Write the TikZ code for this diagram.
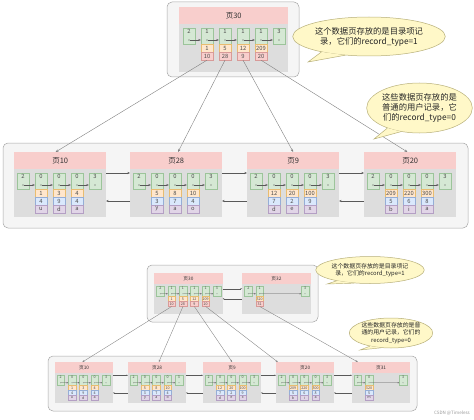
\documentclass[tikz,border=0pt]{standalone}
\usepackage{fontspec}
\setmainfont{Noto Sans CJK SC}
\usetikzlibrary{arrows.meta,shapes.geometric,calc}
\definecolor{gF}{HTML}{D5E8D4}\definecolor{gD}{HTML}{9CC49A}
\definecolor{oF}{HTML}{FFE6CC}\definecolor{oD}{HTML}{E8BC70}
\definecolor{pF}{HTML}{F8CECC}\definecolor{pD}{HTML}{D89A98}
\definecolor{bF}{HTML}{DAE8FC}\definecolor{bD}{HTML}{95AED6}
\definecolor{uF}{HTML}{E1D5E7}\definecolor{uD}{HTML}{B49FC4}
\definecolor{hdrF}{HTML}{F8CECC}
\definecolor{pgF}{HTML}{DDDDDD}
\definecolor{outF}{HTML}{F5F5F5}\definecolor{outD}{HTML}{A8A8A8}
\definecolor{bubF}{HTML}{FFF8C8}\definecolor{bubD}{HTML}{B8B07A}

% green cell: name, left x, value
\newcommand{\gc}[3]{%
  \node[gcell] (#1) at ({#2+6},29) {};
  \node[ctext] (#1t) at ({#2+6},24.5) {#3};
  \node[dotn] (#1d) at ({#2+6},33) {};}
% coloured cell: style, name, left x, centre y, value
\newcommand{\rc}[5]{\node[#1] (#2) at ({#3+6},#4) {#5};}
% link between green cells
\newcommand{\lk}[2]{\draw[lnk] (#1d) -- (#2.west |- #1d);}

% leaf page: name, x, y, label, row1, row2, row3
\newcommand{\leafpg}[7]{%
 \begin{scope}[shift={(#2,#3)}]
  \node[pgbg, minimum width=92pt, minimum height=48pt] (#1b) at (0,17) {};
  \node[hdr, minimum width=92pt, minimum height=17pt] (#1) at (0,0) {#4};
  \foreach \v [count=\k] in {2,0,0,0,3} {\gc{#1g\k}{3+18*(\k-1)}{\v}}
  \foreach \k [evaluate=\k as \nk using int(\k+1)] in {1,...,4} {\lk{#1g\k}{#1g\nk}}
  \foreach \v [count=\k] in {#5} {\rc{orc}{#1o\k}{3+18*\k}{41}{\v}}
  \foreach \v [count=\k] in {#6} {\rc{blc}{#1u\k}{3+18*\k}{49}{\v}}
  \foreach \v [count=\k] in {#7} {\rc{puc}{#1v\k}{3+18*\k}{57}{\v}}
  \coordinate (#1r) at (92,21); \coordinate (#1l) at (0,21);
  \coordinate (#1rr) at (92,49); \coordinate (#1ll) at (0,49);
 \end{scope}}

% directory page: name, x, y, label, row1, row2
\newcommand{\dirpg}[6]{%
 \begin{scope}[shift={(#2,#3)}]
  \node[pgbg, minimum width=109pt, minimum height=48pt] (#1b) at (0,17) {};
  \node[hdr, minimum width=109pt, minimum height=17pt] (#1) at (0,0) {#4};
  \foreach \v [count=\k] in {2,1,1,1,1,3} {\gc{#1g\k}{4+18*(\k-1)}{\v}}
  \foreach \k [evaluate=\k as \nk using int(\k+1)] in {1,...,5} {\lk{#1g\k}{#1g\nk}}
  \foreach \v [count=\k] in {#5} {\rc{orc}{#1o\k}{4+18*\k}{41}{\v}}
  \foreach \v [count=\k] in {#6} {\rc{pkc}{#1p\k}{4+18*\k}{49}{\v}}
  \coordinate (#1r) at (109,25); \coordinate (#1l) at (0,25);
  \coordinate (#1rr) at (109,41); \coordinate (#1ll) at (0,41);
 \end{scope}}

\begin{document}
\begin{tikzpicture}[x=1pt,y=-1pt,
  hdr/.style={fill=hdrF, inner sep=0, anchor=north west, font=\fontsize{7.5}{8}\selectfont, text=black!80},
  pgbg/.style={fill=pgF, inner sep=0, anchor=north west},
  cellbase/.style={draw, inner sep=0, minimum width=12pt, line width=0.35pt, font=\fontsize{5.8}{6}\selectfont, text=black!70},
  gcell/.style={cellbase, fill=gF, draw=gD, minimum height=16pt},
  orc/.style={cellbase, fill=oF, draw=oD, minimum height=8pt},
  pkc/.style={cellbase, fill=pF, draw=pD, minimum height=8pt},
  blc/.style={cellbase, fill=bF, draw=bD, minimum height=8pt},
  puc/.style={cellbase, fill=uF, draw=uD, minimum height=8pt},
  ctext/.style={inner sep=0, font=\fontsize{5.8}{6}\selectfont, text=black!70},
  dotn/.style={circle, fill=black!70, inner sep=0, minimum size=1.3pt},
  lnk/.style={-{Stealth[length=2.5pt,width=2pt]}, line width=0.4pt, draw=black!65},
  conn/.style={-{Stealth[length=3pt,width=2.4pt]}, line width=0.4pt, draw=black!50},
  outer/.style={draw=outD, fill=outF, rounded corners=5pt, line width=0.5pt},
  bubble/.style={ellipse, draw=bubD, fill=bubF, line width=0.5pt, inner sep=0, align=center, text=black!85},
]
\fill[white] (0,0) rectangle (474,420);
\useasboundingbox (0,0) rectangle (474,420);

% ---------------- top diagram ----------------
\draw[outer] (167,2) rectangle (299,77);
\draw[outer] (3,143) rectangle (468,228);
\dirpg{t30}{179}{7}{页30}{1,5,12,209}{10,28,9,20}
\leafpg{p10}{14}{152}{页10}{1,3,4}{4,9,4}{u,d,a}
\leafpg{p28}{130}{152}{页28}{5,8,10}{3,7,4}{y,a,o}
\leafpg{p9}{247}{152}{页9}{12,20,100}{7,2,9}{d,e,x}
\leafpg{p20}{364}{152}{页20}{209,220,300}{5,6,8}{b,i,a}
\draw[lnk] (p10r) -- (p28l); \draw[lnk] (p28ll) -- (p10rr);
\draw[lnk] (p28r) -- (p9l);  \draw[lnk] (p9ll) -- (p28rr);
\draw[lnk] (p9r) -- (p20l);  \draw[lnk] (p20ll) -- (p9rr);
\draw[conn] (t30p1.south) -- ($(p10.north west)!0.45!(p10.north east)$);
\draw[conn] (t30p2.south) -- ($(p28.north west)!0.52!(p28.north east)$);
\draw[conn] (t30p3.south) -- (p9.north);
\draw[conn] (t30p4.south) -- ($(p20.north west)!0.47!(p20.north east)$);

\node[bubble, minimum width=120pt, minimum height=39pt, font=\fontsize{8.3}{10}\selectfont] (c1) at (369,36.5) {这个数据页存放的是目录项记\\录，它们的record\_type=1};
\coordinate (c1t) at (308,62);
\fill[bubF] (c1.198) -- (c1t) -- (c1.218) -- cycle;
\draw[bubD, line width=0.5pt] (c1.198) -- (c1t) -- (c1.218);

\node[bubble, minimum width=86pt, minimum height=50pt, font=\fontsize{8.3}{10.3}\selectfont] (c2) at (419.5,108) {这些数据页存放的是\\普通的用户记录，它\\们的record\_type=0};
\coordinate (c2t) at (374,139);
\fill[bubF] (c2.212) -- (c2t) -- (c2.232) -- cycle;
\draw[bubD, line width=0.5pt] (c2.212) -- (c2t) -- (c2.232);

% ---------------- bottom diagram ----------------
\draw[outer] (147,265) rectangle (318,322);
\draw[outer] (48,356) rectangle (417,411);
\begin{scope}[shift={(154,273)}, scale=0.63, transform shape,
  lnk/.style={-{Stealth[length=1.6pt,width=1.3pt]}, line width=0.3pt, draw=black!65},
  conn/.style={-{Stealth[length=2.2pt,width=1.8pt]}, line width=0.35pt, draw=black!50},
  cellbase/.append style={line width=0.25pt}]
 \dirpg{b30}{0}{0}{页30}{1,5,12,209}{10,28,9,20}
 \begin{scope}[shift={(139.7,0)}]
  \node[pgbg, minimum width=109pt, minimum height=48pt] (b32b) at (0,17) {};
  \node[hdr, minimum width=109pt, minimum height=17pt] (b32) at (0,0) {页32};
  \gc{b32g1}{4}{2} \gc{b32g2}{22}{1} \gc{b32g3}{94}{3}
  \lk{b32g1}{b32g2} \lk{b32g2}{b32g3}
  \rc{orc}{b32o1}{22}{41}{320}
  \rc{pkc}{b32p1}{22}{49}{31}
  \coordinate (b32r) at (109,25); \coordinate (b32l) at (0,25);
  \coordinate (b32rr) at (109,41); \coordinate (b32ll) at (0,41);
 \end{scope}
 \draw[lnk] (b30r) -- (b32l); \draw[lnk] (b32ll) -- (b30rr);

 \leafpg{b10}{-157.1}{141.3}{页10}{1,3,4}{4,9,4}{u,d,a}
 \leafpg{b28}{-41.3}{141.3}{页28}{5,8,10}{3,7,4}{y,a,o}
 \leafpg{b9}{77.8}{141.3}{页9}{12,20,100}{7,2,9}{d,e,x}
 \leafpg{b20}{193.7}{141.3}{页20}{209,220,300}{5,6,8}{b,i,a}
 \begin{scope}[shift={(314.3,141.3)}]
  \node[pgbg, minimum width=92pt, minimum height=48pt] (b31b) at (0,17) {};
  \node[hdr, minimum width=92pt, minimum height=17pt] (b31) at (0,0) {页31};
  \gc{b31g1}{3}{2} \gc{b31g2}{21}{0} \gc{b31g3}{75}{3}
  \lk{b31g1}{b31g2} \lk{b31g2}{b31g3}
  \rc{orc}{b31o1}{21}{41}{320}
  \rc{blc}{b31u1}{21}{49}{5}
  \rc{puc}{b31v1}{21}{57}{m}
  \coordinate (b31r) at (92,21); \coordinate (b31l) at (0,21);
  \coordinate (b31rr) at (92,49); \coordinate (b31ll) at (0,49);
 \end{scope}
 \draw[lnk] (b10r) -- (b28l); \draw[lnk] (b28ll) -- (b10rr);
 \draw[lnk] (b28r) -- (b9l);  \draw[lnk] (b9ll) -- (b28rr);
 \draw[lnk] (b9r) -- (b20l);  \draw[lnk] (b20ll) -- (b9rr);
 \draw[lnk] (b20r) -- (b31l); \draw[lnk] (b31ll) -- (b20rr);

 \draw[conn] (b30p1.south) -- ($(b10.north west)!0.47!(b10.north east)$);
 \draw[conn] (b30p2.south) -- ($(b28.north west)!0.53!(b28.north east)$);
 \draw[conn] (b30p3.south) -- (b9.north);
 \draw[conn] (b30p4.south) -- ($(b20.north west)!0.03!(b20.north east)$);
 \draw[conn] (b32p1.south) -- ($(b31.north west)!0.1!(b31.north east)$);
\end{scope}

\node[bubble, minimum width=86pt, minimum height=27pt, font=\fontsize{5.9}{6.8}\selectfont] (c3) at (370,270) {这个数据页存放的是目录项记\\录，它们的record\_type=1};
\coordinate (c3t) at (327,284);
\fill[bubF] (c3.198) -- (c3t) -- (c3.220) -- cycle;
\draw[bubD, line width=0.45pt] (c3.198) -- (c3t) -- (c3.220);

\node[bubble, minimum width=66pt, minimum height=30pt, font=\fontsize{5.9}{7.2}\selectfont] (c4) at (391,333) {这些数据页存放的是普\\通的用户记录，它们的\\record\_type=0};
\coordinate (c4t) at (360,350);
\fill[bubF] (c4.212) -- (c4t) -- (c4.236) -- cycle;
\draw[bubD, line width=0.45pt] (c4.212) -- (c4t) -- (c4.236);

\node[inner sep=0, anchor=east, font=\fontsize{4.5}{5}\selectfont, text=black!40] (wm) at (470,413) {CSDN @Timeless};
\end{tikzpicture}
\end{document}
